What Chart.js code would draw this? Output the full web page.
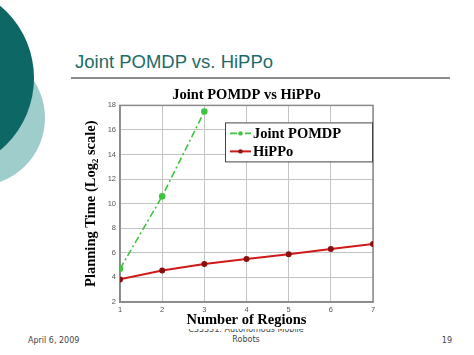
<!DOCTYPE html>
<html>
<head>
<meta charset="utf-8">
<script src="https://cdn.jsdelivr.net/npm/chart.js@4.4.1/dist/chart.umd.min.js"></script>
<style>
  html, body { margin:0; padding:0; background:#fff; width:474px; height:355px; overflow:hidden; }
  .abs { position:absolute; }
  #circDark { left:-154px; top:-16px; width:188px; height:188px; border-radius:50%; background:#0d6764; z-index:2; }
  #circLight { left:-91px; top:50px; width:136px; height:136px; border-radius:50%; background:#9ecdcc; z-index:1; }
  #slideTitle { left:75px; top:53px; font-family:"Liberation Sans", Arial, sans-serif; font-size:18.5px; line-height:18.5px; color:#1d6b68; white-space:nowrap; z-index:3; }
  #rule { left:71px; top:77px; width:379px; height:1.5px; background:#8c8c8c; z-index:3; }
  .foot { font-family:"DejaVu Sans", Verdana, sans-serif; font-size:8px; line-height:10px; color:#444; white-space:nowrap; z-index:3; }
  #date { left:28px; top:336px; }
  #course { left:146px; width:200px; top:325px; text-align:center; z-index:3; }
  #page { left:436px; width:16px; top:336px; text-align:right; }
  #imgBg { left:80px; top:83px; width:300px; height:246px; background:#fff; z-index:4; }
  #c { position:absolute; left:0; top:0; z-index:5; }
</style>
</head>
<body>
<div class="abs" id="circLight"></div>
<div class="abs" id="circDark"></div>
<div class="abs" id="slideTitle">Joint POMDP vs. HiPPo</div>
<div class="abs" id="rule"></div>
<div class="abs foot" id="date">April 6, 2009</div>
<div class="abs foot" id="course">CS5331: Autonomous Mobile<br>Robots</div>
<div class="abs foot" id="page">19</div>
<div class="abs" id="imgBg"></div>
<canvas id="c" width="474" height="355"></canvas>
<script>
// ---- data ----
const regions = [1, 2, 3, 4, 5, 6, 7];
const jointPomdp = [4.7, 10.6, 17.5];
const hippo = [3.84, 4.56, 5.1, 5.5, 5.88, 6.32, 6.72];
const seriesNames = ['Joint POMDP', 'HiPPo'];
const xTicks = [1, 2, 3, 4, 5, 6, 7];
const yTicks = [2, 4, 6, 8, 10, 12, 14, 16, 18];
const chartTitle = 'Joint POMDP vs HiPPo';
const xTitle = 'Number of Regions';
const yTitle = 'Planning Time (Log\u2082 scale)';

const toPoints = (xs, ys) => ys.map((v, i) => ({ x: xs[i], y: v }));

const GREEN = '#3fc43f';
const RED = '#d01a1a';
const SERIF = '"Liberation Serif", "Times New Roman", serif';

const boxPlugin = {
  id: 'boxPlugin',
  beforeDatasetsDraw(chart) {
    const { ctx, chartArea: a } = chart;
    ctx.save();
    ctx.strokeStyle = '#8a8a8a';
    ctx.lineWidth = 1.5;
    ctx.strokeRect(a.left, a.top, a.right - a.left, a.bottom - a.top);
    ctx.restore();
  }
};

const legendBox = {
  id: 'legendBox',
  afterDraw(chart) {
    const { ctx, chartArea: a } = chart;
    const ds = chart.data.datasets;
    const w = 147, h = 39;
    const x0 = a.right - 1 - w, y0 = a.top + 17;
    ctx.save();
    ctx.fillStyle = '#fff';
    ctx.fillRect(x0, y0, w, h);
    ctx.strokeStyle = '#444';
    ctx.lineWidth = 1;
    ctx.strokeRect(x0 + 0.5, y0 + 0.5, w, h);
    ds.forEach((d, i) => {
      const yy = y0 + 11 + i * 18;
      ctx.strokeStyle = d.borderColor;
      ctx.lineWidth = d.borderWidth;
      ctx.setLineDash(d.borderDash || []);
      ctx.beginPath();
      ctx.moveTo(x0 + 5, yy);
      ctx.lineTo(x0 + 26, yy);
      ctx.stroke();
      ctx.setLineDash([]);
      ctx.fillStyle = d.pointBackgroundColor;
      ctx.beginPath();
      ctx.arc(x0 + 15.5, yy, 2.2, 0, Math.PI * 2);
      ctx.fill();
      ctx.fillStyle = '#000';
      ctx.font = 'bold 14.5px ' + SERIF;
      ctx.textBaseline = 'middle';
      ctx.textAlign = 'left';
      ctx.fillText(d.label, x0 + 28, yy + 1);
    });
    ctx.restore();
  }
};

new Chart(document.getElementById('c'), {
  type: 'line',
  data: {
    datasets: [
      {
        label: seriesNames[0],
        data: toPoints(regions, jointPomdp),
        borderColor: GREEN,
        backgroundColor: GREEN,
        pointBackgroundColor: GREEN,
        pointBorderColor: GREEN,
        borderWidth: 1.6,
        borderDash: [7, 3, 2, 3],
        pointRadius: 2.5,
        fill: false,
        tension: 0
      },
      {
        label: seriesNames[1],
        data: toPoints(regions, hippo),
        borderColor: RED,
        backgroundColor: RED,
        pointBackgroundColor: '#8a0f0f',
        pointBorderColor: '#8a0f0f',
        borderWidth: 2,
        pointRadius: 2,
        fill: false,
        tension: 0
      }
    ]
  },
  options: {
    responsive: false,
    devicePixelRatio: 1,
    animation: false,
    layout: { padding: { left: 78, right: 101, top: 85, bottom: 3 } },
    plugins: {
      legend: { display: false },
      tooltip: { enabled: false },
      title: {
        display: true,
        text: chartTitle,
        fullSize: false,
        color: '#000',
        font: { family: SERIF, size: 14.5, weight: 'bold', lineHeight: 1.2 },
        padding: { top: 2, bottom: 1 }
      }
    },
    scales: {
      x: {
        type: 'linear',
        min: 1, max: 7,
        afterBuildTicks: (s) => { s.ticks = xTicks.map(v => ({ value: v })); },
        afterFit: (s) => { s.height = 50; },
        grid: { color: '#c4c4c4', borderDash: [1, 2], drawTicks: false, lineWidth: 1 },
        border: { display: true, color: '#8a8a8a', width: 1.5 },
        ticks: { color: '#555', font: { family: '"Liberation Sans", Arial, sans-serif', size: 7.5 }, padding: 3, maxRotation: 0 },
        title: {
          display: true, text: xTitle, color: '#000',
          font: { family: SERIF, size: 14.5, weight: 'bold', lineHeight: 1.2 },
          padding: { top: 0, bottom: 23 }
        }
      },
      y: {
        type: 'linear',
        min: 2, max: 18,
        afterBuildTicks: (s) => { s.ticks = yTicks.map(v => ({ value: v })); },
        afterFit: (s) => { s.width = 42; },
        grid: { color: '#c4c4c4', borderDash: [1, 2], drawTicks: false, lineWidth: 1 },
        border: { display: true, color: '#8a8a8a', width: 1.5 },
        ticks: { color: '#555', font: { family: '"Liberation Sans", Arial, sans-serif', size: 7.5 }, padding: 4 },
        title: {
          display: true, text: yTitle, color: '#000',
          font: { family: SERIF, size: 14.5, weight: 'bold', lineHeight: 1.2 },
          padding: { top: 5, bottom: 0 }
        }
      }
    }
  },
  plugins: [boxPlugin, legendBox]
});
</script>
</body>
</html>
